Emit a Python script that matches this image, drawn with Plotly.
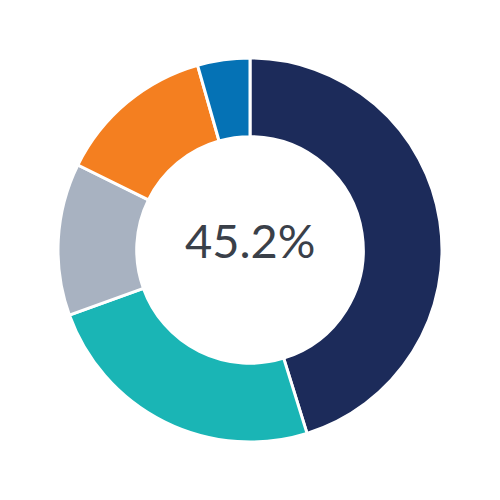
import plotly.graph_objects as go

labels = ["A", "B", "C", "D", "E"]
values = [45.2, 24.3, 12.8, 13.3, 4.4]
colors = ["#1c2b5a", "#1ab5b5", "#a8b2c1", "#f47f20", "#0572b5"]
center_text = "45.2%"

fig = go.Figure()
fig.add_trace(go.Pie(
    labels=labels, values=values, hole=0.59, sort=False,
    direction="clockwise", rotation=0,
    marker=dict(colors=colors, line=dict(color="white", width=3)),
    textinfo="none", hoverinfo="label+percent", showlegend=False,
))
fig.add_annotation(text=center_text, x=0.5, y=0.5, xref="paper", yref="paper",
                   yshift=10, showarrow=False,
                   font=dict(family="Lato", size=47, color="#3a4049"))
# page body adds 8px, so shift the pie up/left
fig.update_layout(
    width=500, height=500,
    margin=dict(l=50, r=66, t=50, b=66),
    paper_bgcolor="white", plot_bgcolor="white",
)
fig.write_html("out.html")
